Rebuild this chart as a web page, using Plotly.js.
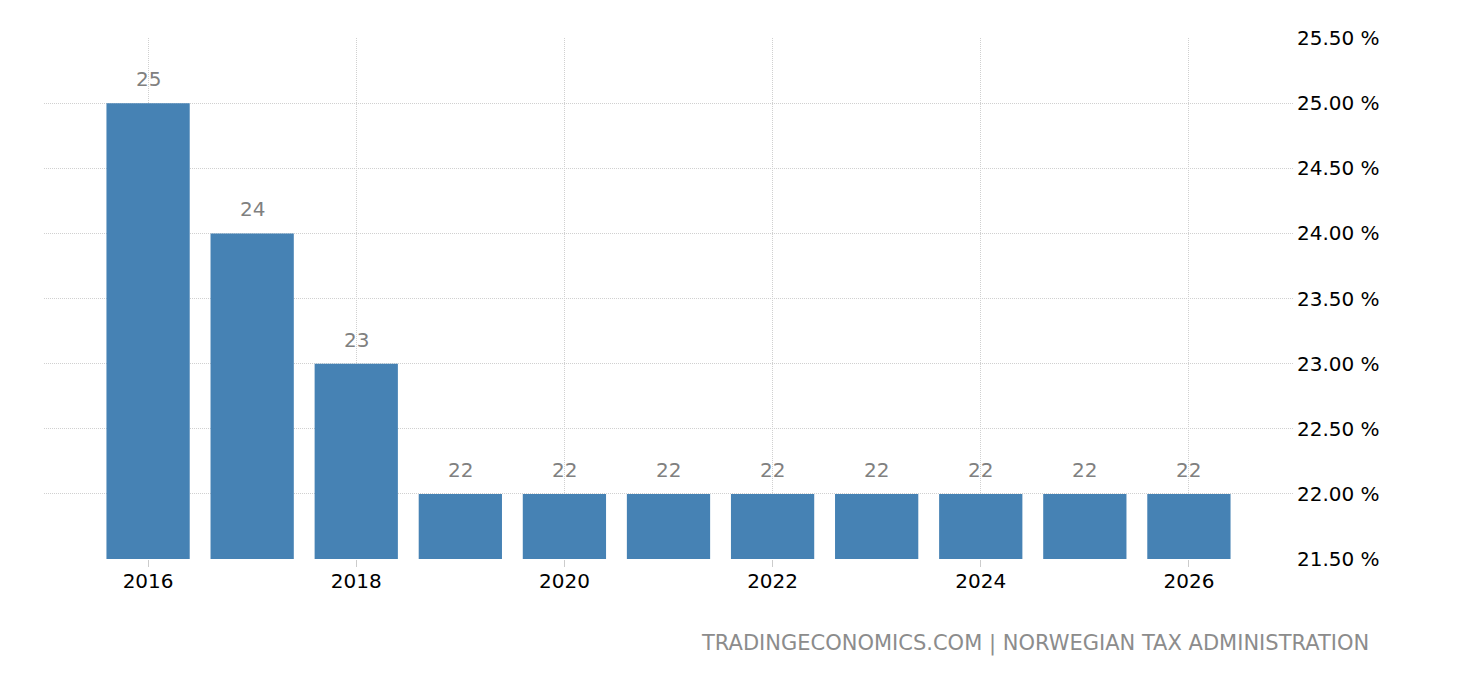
<!DOCTYPE html>
<html>
<head>
<meta charset="utf-8">
<script src="https://cdn.plot.ly/plotly-3.0.1.min.js"></script>
<style>
  html, body { margin: 0; padding: 0; background: #fff; }
  #graph { width: 1460px; height: 680px; }
</style>
</head>
<body>
<div id="graph"></div>
<script>
// corporate tax rate, Norway
const years = [2016, 2017, 2018, 2019, 2020, 2021, 2022, 2023, 2024, 2025, 2026]
const rates = [25, 24, 23, 22, 22, 22, 22, 22, 22, 22, 22]
const sourceText = 'TRADINGECONOMICS.COM | NORWEGIAN TAX ADMINISTRATION'

const tickFont = {family: 'DejaVu Sans, sans-serif', size: 20, color: '#000'}

let data = [
    {
        type: 'bar',
        x: years,
        y: rates,
        width: 0.8,
        marker: {color: '#4682b4'},
        hoverinfo: 'x+y'
    }
]

// value labels above each bar
let valueLabels = years.map((yr, i) => ({
    x: yr,
    y: rates[i],
    xref: 'x', yref: 'y',
    text: String(rates[i]),
    showarrow: false,
    yanchor: 'bottom',
    yshift: 10,
    font: {family: 'DejaVu Sans, sans-serif', size: 20, color: '#808080'}
}))

let layout = {
    width: 1460,
    height: 680,
    margin: {l: 44, r: 167, t: 38, b: 121},
    paper_bgcolor: '#fff',
    plot_bgcolor: '#fff',
    showlegend: false,
    xaxis: {
        range: [2015, 2027],
        tickvals: [2016, 2018, 2020, 2022, 2024, 2026],
        ticktext: ['2016', '2018', '2020', '2022', '2024', '2026'],
        tickfont: tickFont,
        ticks: 'outside',
        ticklen: 7,
        tickcolor: '#cccccc',
        ticklabelstandoff: -3,
        showgrid: true,
        gridcolor: '#d0d0d0',
        griddash: '1px,1px',
        zeroline: false,
        showline: false,
        fixedrange: true
    },
    yaxis: {
        side: 'right',
        range: [21.5, 25.5],
        dtick: 0.5,
        tick0: 21.5,
        tickformat: '.2f',
        ticksuffix: ' %',
        tickfont: tickFont,
        ticklabelstandoff: 3,
        showgrid: true,
        gridcolor: '#d0d0d0',
        griddash: '1px,1px',
        zeroline: false,
        showline: false,
        ticks: '',
        fixedrange: true
    },
    annotations: valueLabels.concat([
        {
            text: sourceText,
            xref: 'paper', yref: 'paper',
            x: 1.0625, y: -0.135,
            xanchor: 'right', yanchor: 'top',
            showarrow: false,
            font: {family: 'DejaVu Sans, sans-serif', size: 21, color: '#8c8c8c'}
        }
    ])
}

Plotly.newPlot('graph', data, layout, {displayModeBar: false, staticPlot: true})
</script>
</body>
</html>
